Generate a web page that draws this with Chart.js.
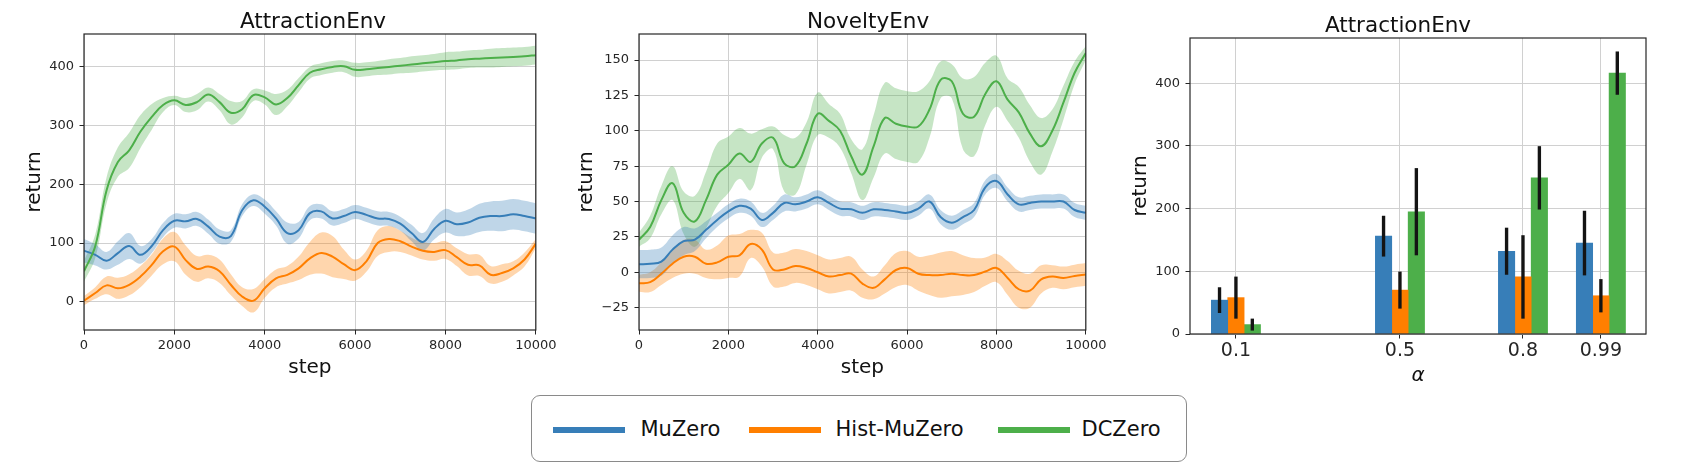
<!DOCTYPE html>
<html><head><meta charset="utf-8">
<script src="https://cdn.jsdelivr.net/npm/chart.js@4.4.1/dist/chart.umd.min.js"></script>
<style>
html,body{margin:0;padding:0;background:#fff;}
body{width:1693px;height:474px;position:relative;overflow:hidden;font-family:'DejaVu Sans';}
canvas{position:absolute;top:0;}
#legend{position:absolute;left:531px;top:395px;width:656px;height:67px;box-sizing:border-box;border:1.5px solid #8a8a8a;border-radius:9px;background:#fff;}
.lg-line{position:absolute;height:6px;width:72px;top:30.5px;}
.lg-text{position:absolute;top:21px;font-size:21px;line-height:24px;color:#111;white-space:nowrap;font-family:'DejaVu Sans';}
</style></head>
<body>
<canvas id="c1" width="560" height="400" style="left:0;width:560px;height:400px"></canvas>
<canvas id="c2" width="550" height="400" style="left:560px;width:550px;height:400px"></canvas>
<canvas id="c3" width="583" height="400" style="left:1110px;width:583px;height:400px"></canvas>
<div id="legend"></div>
<script>
// ---------------- data ----------------
const seriesNames = ['MuZero', 'Hist-MuZero', 'DCZero'];
const seriesColors = ['#377eb8', '#ff7f00', '#4daf4a'];
const bandColors = ['rgba(55,126,184,0.32)', 'rgba(255,127,0,0.32)', 'rgba(77,175,74,0.32)'];

const steps = [0,250,500,750,1000,1250,1500,1750,2000,2250,2500,2750,3000,3250,3500,3750,4000,4250,4500,4750,5000,5250,5500,5750,6000,6250,6500,6750,7000,7250,7500,7750,8000,8250,8500,8750,9000,9250,9500,9750,10000];
const stepTicks = [0,2000,4000,6000,8000,10000];

// AttractionEnv (left)
const attrMuZero    = [87,80,70,83,95,80,95,122,138,137,141,128,111,112,156,173,162,142,117,122,151,154,142,146,153,148,142,141,133,117,102,124,138,132,135,143,146,146,149,146,142];
const attrMuZeroStd = [20,18,15,20,22,15,12,12,12,12,12,12,12,10,10,10,12,12,18,14,12,12,12,12,12,12,12,12,12,14,15,18,20,20,22,24,25,26,26,26,26];
const attrHist      = [2,15,28,23,29,43,63,86,94,71,56,60,52,29,9,2,23,40,46,57,74,83,77,64,54,69,100,107,103,94,87,85,88,76,63,62,46,49,57,72,99];
const attrHistStd   = [8,10,15,18,18,18,18,22,25,25,22,20,20,18,16,20,16,15,15,20,28,35,35,25,18,18,22,22,18,15,15,15,15,15,18,18,15,15,12,12,8];
const attrDC        = [52,95,190,238,258,290,315,335,343,335,340,353,340,322,328,352,348,336,347,369,390,396,400,401,395,396,398,400,402,404,406,408,410,411,413,414,415,416,417,418,420];
const attrDCStd     = [18,20,22,25,30,28,22,12,8,12,14,12,14,20,14,10,12,18,14,12,10,10,10,10,12,12,12,13,13,14,14,14,15,15,15,15,16,16,16,16,16];
const attrTicks = [0,100,200,300,400];

// NoveltyEnv (middle)
const novMuZero    = [5.7,6,7.5,16,22,23,30,37,43,47,45,37,42,49,48,50,53,49,45,44.5,42,44.5,44,43,42,45,50,39,35,39,44,60,64.5,55,48,49,50,50,50,44,42];
const novMuZeroStd = [10,10,10,10,10,8,6,5,5,5,5,5,5,6,5,5,5,5,5,5,5,5,5,5,5,5,5,5,5,5,5,5,5,5,5,5,5,5,5,5,5];
const novHist      = [-7.8,-7,-1,6,11,11,6,7,11,12,20,16,2,2,4.5,3,0,-3,-2,-1,-8,-11,-5,1.6,3,-1,-2,-2,-1,-2,-2,0.5,3,-4,-12,-13,-5,-3,-4,-2.6,-1.5];
const novHistStd   = [6,7,8,10,12,12,10,12,15,15,10,12,12,12,12,12,12,12,12,12,10,8,10,12,12,12,14,16,16,14,12,10,10,12,13,12,10,8,8,8,8];
const novDC        = [23,32,51,63,42,36,51,69,76,84,78,91,95,77,75,91,112,107,100,82,69,89,109,105,103,103,115,136,135,112,110,126,135,122,113,98,89,100,120,141,155];
const novDCStd     = [5,8,10,12,15,18,20,22,20,18,20,10,8,20,20,15,15,12,12,12,18,22,25,25,25,25,20,13,12,25,28,22,18,15,18,20,20,15,12,8,5];
const novTicks = [-25,0,25,50,75,100,125,150];

// AttractionEnv bars (right)
const alphas = [0.1, 0.5, 0.8, 0.99];
const alphaLabels = ['0.1', '0.5', '0.8', '0.99'];
const barMuZero    = [54, 156, 132, 145];
const barMuZeroErr = [20, 32, 37, 51];
const barHist      = [58, 70, 91, 61];
const barHistErr   = [33, 29, 66, 26];
const barDC        = [15, 195, 249, 416];
const barDCErr     = [9, 69, 50, 34];
const barTicks = [0,100,200,300,400];

// ---------------- helpers ----------------
Chart.defaults.font.family = "'DejaVu Sans'";
Chart.defaults.font.size = 13;
Chart.defaults.color = '#262626';
Chart.defaults.animation = false;

const framePlugin = {
  id: 'frame',
  afterDatasetsDraw(chart) {
    const {ctx, chartArea: a} = chart;
    ctx.save();
    ctx.strokeStyle = '#262626';
    ctx.lineWidth = 1.2;
    ctx.strokeRect(a.left, a.top, a.right - a.left, a.bottom - a.top);
    ctx.restore();
  }
};
const titlePlugin = {
  id: 'figTitle',
  afterDraw(chart, args, opts) {
    const ctx = chart.ctx;
    ctx.save();
    ctx.font = "21.5px 'DejaVu Sans'";
    ctx.fillStyle = '#111';
    ctx.textAlign = 'center';
    ctx.textBaseline = 'alphabetic';
    ctx.fillText(opts.text, opts.x, opts.y);
    ctx.restore();
  }
};

const gridOpts = {color: '#d0d0d0', lineWidth: 1, tickLength: 4.5, tickColor: '#262626', tickWidth: 1};
const fmt = v => (v < 0 ? '\u2212' + Math.abs(v) : String(v));

function lineDatasets(means, stds) {
  const ds = [];
  means.forEach((m, k) => {
    const s = stds[k];
    ds.push({data: steps.map((x, i) => ({x, y: m[i] + s[i]})), borderWidth: 0, borderColor: 'transparent',
      pointRadius: 0, fill: false, tension: 0.4, order: 10});
    ds.push({data: steps.map((x, i) => ({x, y: m[i] - s[i]})), borderWidth: 0, borderColor: 'transparent',
      pointRadius: 0, fill: '-1', backgroundColor: bandColors[k], tension: 0.4, order: 10});
  });
  means.forEach((m, k) => {
    ds.push({data: steps.map((x, i) => ({x, y: m[i]})), borderColor: seriesColors[k], borderWidth: 2,
      pointRadius: 0, fill: false, tension: 0.4, order: 3 - k});
  });
  return ds;
}

function lineChart(id, means, stds, yTicks, yMin, yMax, yWidth, padRight, yTitlePad, title) {
  return new Chart(document.getElementById(id), {
    type: 'line',
    data: {datasets: lineDatasets(means, stds)},
    options: {
      responsive: false,
      layout: {padding: {left: 0, top: 34, right: padRight, bottom: 0}},
      plugins: {legend: {display: false}, tooltip: {enabled: false},
        filler: {drawTime: 'beforeDatasetsDraw'}, figTitle: title},
      scales: {
        x: {type: 'linear', min: 0, max: 10000,
          afterBuildTicks: s => { s.ticks = stepTicks.map(v => ({value: v})); },
          afterFit: s => { s.height = 70; },
          ticks: {padding: 3.5, maxRotation: 0, autoSkip: false, callback: v => String(v)},
          grid: gridOpts, border: {display: false},
          title: {display: true, text: 'step', font: {size: 20}, color: '#111', padding: {top: 0, bottom: 20}}},
        y: {type: 'linear', min: yMin, max: yMax,
          afterBuildTicks: s => { s.ticks = yTicks.map(v => ({value: v})); },
          afterFit: s => { s.width = yWidth; },
          ticks: {padding: 5.5, autoSkip: false, callback: fmt},
          grid: gridOpts, border: {display: false},
          title: {display: true, text: 'return', font: {size: 20}, color: '#111', padding: {top: yTitlePad, bottom: 0}}}
      }
    },
    plugins: [framePlugin, titlePlugin]
  });
}

lineChart('c1', [attrMuZero, attrHist, attrDC], [attrMuZeroStd, attrHistStd, attrDCStd],
  attrTicks, -48, 456, 84, 21, 23, {text: 'AttractionEnv', x: 313, y: 28});
lineChart('c2', [novMuZero, novHist, novDC], [novMuZeroStd, novHistStd, novDCStd],
  novTicks, -40.8, 168.4, 79, 16, 14.3, {text: 'NoveltyEnv', x: 308, y: 28});

// bar chart
const barMeans = [barMuZero, barHist, barDC];
const barErrs = [barMuZeroErr, barHistErr, barDCErr];
const offsets = [-0.04, 0, 0.04];
const barSets = [];
barMeans.forEach((m, k) => {
  barSets.push({type: 'bar', data: alphas.map((a, i) => ({x: a + offsets[k], y: m[i]})),
    backgroundColor: seriesColors[k], barThickness: 16.4, grouped: false, order: 2});
});
barMeans.forEach((m, k) => {
  barSets.push({type: 'bar', data: alphas.map((a, i) => ({x: a + offsets[k], y: [m[i] - barErrs[k][i], m[i] + barErrs[k][i]]})),
    backgroundColor: '#141414', barThickness: 2.7, grouped: false, order: 1});
});

new Chart(document.getElementById('c3'), {
  type: 'bar',
  data: {datasets: barSets},
  options: {
    responsive: false,
    layout: {padding: {left: 0, top: 38, right: 47, bottom: 0}},
    plugins: {legend: {display: false}, tooltip: {enabled: false},
      figTitle: {text: 'AttractionEnv', x: 288, y: 31.5}},
    scales: {
      x: {type: 'linear', min: -0.012, max: 1.1, offset: false,
        afterBuildTicks: s => { s.ticks = alphas.map(v => ({value: v})); },
        afterFit: s => { s.height = 66; },
        ticks: {padding: 1, maxRotation: 0, autoSkip: false, font: {size: 19},
          callback: v => alphaLabels[alphas.indexOf(v)]},
        grid: Object.assign({}, gridOpts, {offset: false}), border: {display: false},
        title: {display: true, text: '\u03b1', font: {size: 20, style: 'italic'}, color: '#111', padding: {top: 0, bottom: 12}}},
      y: {type: 'linear', min: 0, max: 472,
        afterBuildTicks: s => { s.ticks = barTicks.map(v => ({value: v})); },
        afterFit: s => { s.width = 80; },
        ticks: {padding: 5.5, autoSkip: false, callback: fmt},
        grid: gridOpts, border: {display: false},
        title: {display: true, text: 'return', font: {size: 20}, color: '#111', padding: {top: 19, bottom: 0}}}
    }
  },
  plugins: [framePlugin, titlePlugin]
});

// legend
const legendPos = [{line: 21, text: 108.5}, {line: 216.5, text: 303.5}, {line: 465.5, text: 549.5}];
const lg = document.getElementById('legend');
seriesNames.forEach((n, k) => {
  const l = document.createElement('div');
  l.className = 'lg-line';
  l.style.left = legendPos[k].line + 'px';
  l.style.background = seriesColors[k];
  lg.appendChild(l);
  const t = document.createElement('span');
  t.className = 'lg-text';
  t.style.left = legendPos[k].text + 'px';
  t.textContent = n;
  lg.appendChild(t);
});
</script>
</body></html>
